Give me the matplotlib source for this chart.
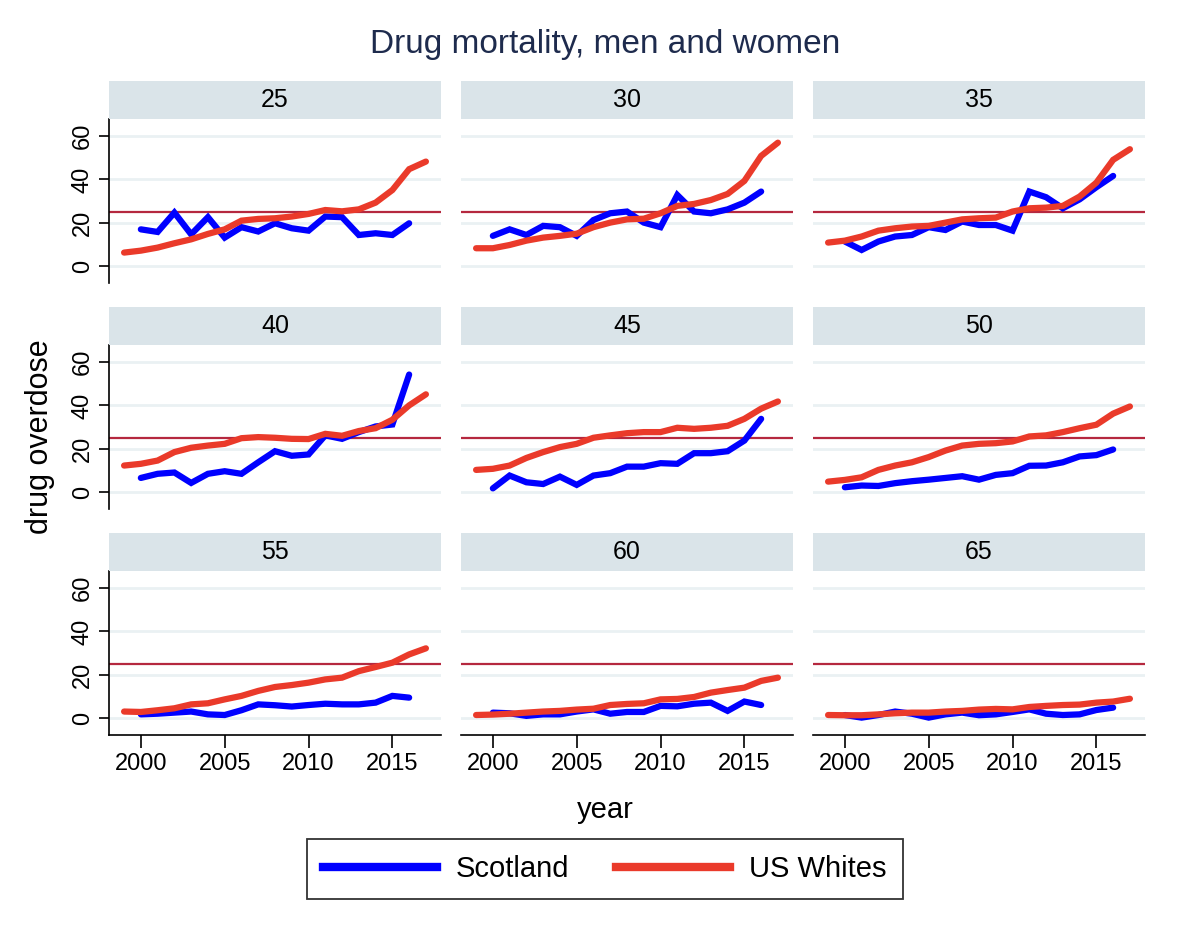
import numpy as np
import matplotlib
matplotlib.use("Agg")
import matplotlib.pyplot as plt
from matplotlib.lines import Line2D

plt.rcParams['font.family'] = ['Liberation Sans', 'DejaVu Sans']

ages = [25, 30, 35, 40, 45, 50, 55, 60, 65]
years_us = list(range(1999, 2018))
years_scot = list(range(2000, 2017))

# Scotland, 2000-2016
scot_25 = [17.0, 15.8, 24.7, 14.7, 22.6, 13.2, 18.0, 16.0, 19.8, 17.5, 16.4, 22.9, 22.6, 14.4, 15.2, 14.4, 19.8]
scot_30 = [14.0, 17.0, 14.4, 18.6, 18.0, 14.0, 21.3, 24.4, 25.2, 20.1, 18.0, 32.8, 25.2, 24.4, 26.2, 29.3, 34.4]
scot_35 = [11.4, 7.5, 11.4, 13.7, 14.4, 18.0, 16.7, 20.6, 19.0, 19.0, 16.4, 34.4, 31.8, 26.7, 30.8, 36.4, 41.6]
scot_40 = [6.6, 8.5, 9.1, 4.3, 8.5, 9.7, 8.5, 13.8, 18.9, 16.8, 17.4, 26.2, 24.6, 27.7, 30.3, 31.2, 54.2]
scot_45 = [1.8, 7.7, 4.6, 3.8, 7.2, 3.4, 7.7, 8.8, 11.8, 11.8, 13.4, 13.1, 18.0, 18.0, 18.9, 23.8, 33.8]
scot_50 = [2.3, 3.1, 2.9, 4.2, 5.1, 5.8, 6.6, 7.4, 5.8, 8.0, 8.8, 12.2, 12.3, 13.8, 16.5, 17.1, 19.7]
scot_55 = [1.8, 2.1, 2.6, 3.1, 1.8, 1.5, 3.7, 6.4, 6.0, 5.4, 6.1, 6.7, 6.4, 6.4, 7.2, 10.3, 9.5]
scot_60 = [2.6, 2.3, 1.1, 1.8, 1.8, 3.1, 4.1, 2.1, 2.9, 2.9, 5.7, 5.5, 6.7, 7.2, 3.4, 7.7, 6.1]
scot_65 = [1.5, 0.3, 1.5, 3.1, 2.1, 0.3, 1.8, 2.6, 1.4, 1.8, 2.9, 4.1, 2.1, 1.5, 1.8, 3.8, 4.9]

# US Whites, 1999-2017
us_25 = [6.3, 7.2, 8.6, 10.6, 12.4, 14.9, 17.0, 21.0, 21.8, 22.1, 22.9, 24.1, 25.9, 25.3, 26.2, 29.3, 35.1, 44.7, 48.2]
us_30 = [8.3, 8.3, 9.8, 11.8, 13.2, 14.0, 15.0, 18.0, 20.1, 21.6, 21.9, 24.4, 27.8, 28.7, 30.5, 33.3, 39.3, 50.8, 56.9]
us_35 = [10.9, 11.8, 13.7, 16.4, 17.5, 18.3, 18.6, 20.1, 21.6, 22.1, 22.4, 25.2, 26.7, 27.0, 27.8, 32.1, 38.5, 49.0, 53.9]
us_40 = [12.3, 13.1, 14.6, 18.5, 20.5, 21.5, 22.3, 24.9, 25.4, 25.1, 24.6, 24.5, 26.9, 26.0, 28.2, 29.5, 33.4, 40.0, 45.1]
us_45 = [10.3, 10.8, 12.3, 15.8, 18.5, 20.8, 22.3, 25.1, 26.2, 27.2, 27.7, 27.7, 29.7, 29.2, 29.7, 30.6, 33.8, 38.5, 41.8]
us_50 = [4.9, 5.7, 6.9, 10.3, 12.3, 13.8, 16.2, 19.2, 21.5, 22.3, 22.6, 23.4, 25.7, 26.2, 27.7, 29.5, 31.1, 36.2, 39.5]
us_55 = [3.1, 2.9, 3.7, 4.6, 6.4, 6.9, 8.7, 10.3, 12.6, 14.4, 15.3, 16.4, 17.9, 18.7, 21.7, 23.6, 25.6, 29.4, 32.2]
us_60 = [1.5, 1.7, 2.1, 2.6, 3.1, 3.4, 4.0, 4.4, 6.1, 6.6, 6.9, 8.7, 8.9, 9.8, 11.8, 13.0, 14.1, 17.2, 18.7]
us_65 = [1.5, 1.4, 1.4, 1.8, 2.3, 2.6, 2.6, 3.1, 3.4, 4.0, 4.3, 4.1, 5.2, 5.7, 6.1, 6.3, 7.2, 7.7, 9.0]

scot = [scot_25, scot_30, scot_35, scot_40, scot_45, scot_50, scot_55, scot_60, scot_65]
us = [us_25, us_30, us_35, us_40, us_45, us_50, us_55, us_60, us_65]
ref_level = 25

BLUE = "#0000ff"
RED = "#ea3a2a"
REFC = "#b5283f"
STRIP = "#dae4e9"
GRID = "#eaf1f3"

W, H = 1184, 932
fig = plt.figure(figsize=(W / 100, H / 100), dpi=100)

lefts = [109, 461, 813]
tops = [119, 345, 571]
aw, ah, sh = 332, 164, 38

def px(l, t, w, h):
    return [l / W, 1 - (t + h) / H, w / W, h / H]

for k, age in enumerate(ages):
    r, c = divmod(k, 3)
    ax = fig.add_axes(px(lefts[c], tops[r], aw, ah))
    ax.set_xlim(1998.1, 2017.9)
    ax.set_ylim(-7.7, 67.8)
    for v in [0, 20, 40, 60]:
        ax.axhline(v, color=GRID, lw=2, zorder=0)
    ax.axhline(ref_level, color=REFC, lw=1.6, zorder=1)
    ax.plot(years_scot, scot[k], color=BLUE, lw=4.5, solid_capstyle='round', solid_joinstyle='miter', zorder=2)
    ax.plot(years_us, us[k], color=RED, lw=4.5, solid_capstyle='round', solid_joinstyle='miter', zorder=3)
    for s in ax.spines.values():
        s.set_visible(False)
    ax.set_yticks([0, 20, 40, 60])
    ax.set_xticks([2000, 2005, 2010, 2015])
    if c == 0:
        ax.spines['left'].set_visible(True)
        ax.spines['left'].set_linewidth(1.2)
        ax.tick_params(axis='y', length=7, width=1.2, labelsize=17, pad=4)
        for lab in ax.get_yticklabels():
            lab.set_rotation(90)
            lab.set_va('center')
    else:
        ax.tick_params(axis='y', left=False, labelleft=False)
    if r == 2:
        ax.spines['bottom'].set_visible(True)
        ax.spines['bottom'].set_linewidth(1.2)
        ax.tick_params(axis='x', length=9, width=1.2, labelsize=17, pad=4)
    else:
        ax.tick_params(axis='x', bottom=False, labelbottom=False)

    st = fig.add_axes(px(lefts[c], tops[r] - sh, aw, sh))
    st.set_facecolor(STRIP)
    st.set_xticks([])
    st.set_yticks([])
    for s in st.spines.values():
        s.set_visible(False)
    st.text(0.5, 0.5, str(age), ha='center', va='center', fontsize=18, transform=st.transAxes)

fig.text(605 / W, 1 - 45 / H, "Drug mortality, men and women", ha='center', va='center',
         fontsize=24, color="#1e2b4d")
fig.text(605 / W, 1 - 810 / H, "year", ha='center', va='center', fontsize=21)
fig.text(40 / W, 1 - 437 / H, "drug overdose", ha='center', va='center', rotation=90, fontsize=22)

handles = [Line2D([0], [0], color=BLUE, lw=6), Line2D([0], [0], color=RED, lw=6)]
leg = fig.legend(handles, ["Scotland", "US Whites"], loc='center', ncol=2,
                 bbox_to_anchor=(605 / W, 1 - 869 / H), fontsize=21, frameon=True,
                 fancybox=False, handlelength=3.9, columnspacing=1.6, handletextpad=0.65,
                 borderpad=0.55, borderaxespad=0)
leg.get_frame().set_edgecolor('black')
leg.get_frame().set_linewidth(1.3)

fig.savefig("out.png", dpi=100)
